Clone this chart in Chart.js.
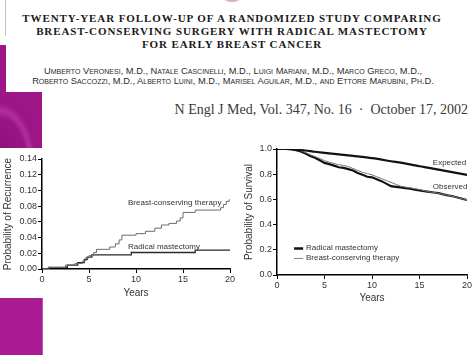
<!DOCTYPE html>
<html>
<head>
<meta charset="utf-8">
<script src="https://cdn.jsdelivr.net/npm/chart.js@4"></script>
<style>
  html, body { margin:0; padding:0; background:#fff; }
  body { width:474px; height:355px; position:relative; overflow:hidden; }
  .abs { position:absolute; }
  .title { left:0; width:464px; text-align:center; font-family:"Liberation Serif","DejaVu Serif",serif; font-weight:bold; font-size:11px; letter-spacing:0.9px; color:#1a1a1a; white-space:nowrap; line-height:13px; }
  .auth { left:0; width:466px; text-align:center; font-family:"Liberation Sans",Arial,sans-serif; font-variant:small-caps; font-size:9.3px; color:#2a2a2a; white-space:nowrap; line-height:10px; }
  .jour { right:6px; font-family:"Liberation Serif","DejaVu Serif",serif; font-size:14px; color:#3a3a3a; white-space:nowrap; line-height:16px; }
</style>
</head>
<body>
<!-- decorative side strips -->
<div class="abs" style="left:5px;top:0;width:1px;height:36px;background:#b9c5cf;"></div>
<div class="abs" style="left:0;top:45px;width:6px;height:48px;background:#9e1588;"></div>
<div class="abs" style="left:0;top:92px;width:42px;height:56px;background:radial-gradient(ellipse at 0% 130%, #8a0f78 0%, #9a1486 45%, #b0309a 52%, #9c1587 60%, #a0168a 100%);"></div>
<div class="abs" style="left:0;top:298px;width:42px;height:57px;background:#a91b90;border-right:1px solid #c455ad;"></div>
<div class="abs" style="left:224px;top:-5px;width:16px;height:7px;border-radius:50%;background:#ddb0c0;"></div>

<div class="abs title" style="top:12px;">TWENTY-YEAR FOLLOW-UP OF A RANDOMIZED STUDY COMPARING</div>
<div class="abs title" style="top:25px;">BREAST-CONSERVING SURGERY WITH RADICAL MASTECTOMY</div>
<div class="abs title" style="top:38px;">FOR EARLY BREAST CANCER</div>
<div class="abs auth" style="top:66px;">Umberto Veronesi, M.D., Natale Cascinelli, M.D., Luigi Mariani, M.D., Marco Greco, M.D.,</div>
<div class="abs auth" style="top:76px;">Roberto Saccozzi, M.D., Alberto Luini, M.D., Marisel Aguilar, M.D., and Ettore Marubini, Ph.D.</div>
<div class="abs jour" style="top:102px;">N Engl J Med, Vol. 347, No. 16 &nbsp;·&nbsp; October 17, 2002</div>

<div class="abs" style="left:0;top:140px;width:240px;height:160px;"><canvas id="c1" width="240" height="160"></canvas></div>
<div class="abs" style="left:235px;top:135px;width:239px;height:175px;"><canvas id="c2" width="239" height="175"></canvas></div>

<script>
// ---------- DATA ----------
// Left panel: cumulative probability of recurrence (step curves)
const recurBctYears  = [0, 0.7, 2.5, 3.5, 4.3, 4.6, 5.0, 5.5, 5.8, 7.2, 7.8, 8.2, 8.5, 10.0, 11.0, 12.0, 12.7, 13.5, 14.3, 14.7, 15.0, 16.3, 19.0, 19.3, 19.6, 19.9, 20];
const recurBctValues = [0, 0.002, 0.005, 0.007, 0.010, 0.014, 0.017, 0.021, 0.025, 0.028, 0.032, 0.037, 0.043, 0.045, 0.048, 0.052, 0.056, 0.058, 0.061, 0.065, 0.072, 0.075, 0.078, 0.082, 0.086, 0.088, 0.088];
const recurRmYears   = [0, 0.7, 2.7, 3.8, 4.5, 4.8, 5.3, 9.5, 16.3, 20];
const recurRmValues  = [0, 0.002, 0.005, 0.008, 0.012, 0.015, 0.018, 0.021, 0.024, 0.024];

// Right panel: probability of survival
const survYears      = [0, 1, 1.5, 2, 2.5, 3, 3.5, 4, 4.5, 5, 5.5, 6, 6.5, 7, 7.5, 8, 8.5, 9, 9.5, 10, 10.5, 11, 11.5, 12, 12.5, 13, 13.5, 14, 14.5, 15, 15.5, 16, 16.5, 17, 17.5, 18, 18.5, 19, 19.5, 20];
const survRmValues   = [1.0, 1.0, 0.998, 0.99, 0.98, 0.965, 0.945, 0.93, 0.91, 0.89, 0.88, 0.868, 0.855, 0.85, 0.84, 0.83, 0.81, 0.795, 0.78, 0.775, 0.76, 0.745, 0.725, 0.705, 0.70, 0.695, 0.69, 0.685, 0.678, 0.672, 0.665, 0.66, 0.655, 0.65, 0.64, 0.632, 0.625, 0.615, 0.605, 0.595];
const survBctValues  = [1.0, 1.0, 0.998, 0.992, 0.985, 0.972, 0.955, 0.94, 0.925, 0.908, 0.895, 0.885, 0.875, 0.87, 0.86, 0.845, 0.83, 0.815, 0.805, 0.795, 0.78, 0.765, 0.75, 0.735, 0.72, 0.705, 0.698, 0.692, 0.685, 0.678, 0.67, 0.66, 0.655, 0.648, 0.64, 0.633, 0.625, 0.615, 0.605, 0.597];
const expectedYears  = [0, 1, 2, 3, 4, 6, 8, 10, 12, 14, 15, 16, 18, 20];
const expectedValues = [1.0, 1.0, 0.995, 0.988, 0.978, 0.962, 0.945, 0.927, 0.903, 0.878, 0.863, 0.85, 0.822, 0.794];

const xTicks = [0, 5, 10, 15, 20];
const recurTicks = [0, 0.02, 0.04, 0.06, 0.08, 0.10, 0.12, 0.14];
const survTicks = [0, 0.2, 0.4, 0.6, 0.8, 1.0];

// ---------- helpers ----------
const pts = (xs, ys) => xs.map((x, i) => ({x, y: ys[i]}));
const FONT = '"Liberation Sans", Arial, sans-serif';
const TXT = '#333';

const annotate = {
  id: 'annotate',
  afterDatasetsDraw(chart, args, opts) {
    const {ctx, scales: {x, y}} = chart;
    ctx.save();
    (opts.keys || []).forEach(k => {
      ctx.beginPath();
      ctx.strokeStyle = k.color; ctx.lineWidth = k.width;
      const py = Math.round(y.getPixelForValue(k.y)) + 0.5;
      ctx.moveTo(x.getPixelForValue(k.x0), py);
      ctx.lineTo(x.getPixelForValue(k.x1), py);
      ctx.stroke();
    });
    (opts.texts || []).forEach(t => {
      ctx.font = (t.size || 8) + 'px ' + FONT;
      ctx.fillStyle = TXT; ctx.textAlign = 'left'; ctx.textBaseline = 'middle';
      ctx.fillText(t.text, x.getPixelForValue(t.x), y.getPixelForValue(t.y));
    });
    ctx.restore();
  }
};

function axisCommon(extra) {
  return Object.assign({
    type: 'linear',
    grid: { drawOnChartArea: false, drawTicks: true, tickLength: 4, color: '#000', lineWidth: 1 },
    border: { display: true, color: '#000', width: 1.5 },
  }, extra);
}

function makeChart(id, cfg) {
  return new Chart(document.getElementById(id), {
    type: 'line',
    data: { datasets: cfg.datasets },
    options: {
      responsive: false, animation: false,
      layout: { padding: cfg.padding },
      elements: { point: { radius: 0 } },
      plugins: { legend: { display: false }, tooltip: { enabled: false }, annotate: cfg.annot },
      scales: {
        x: axisCommon({
          min: 0, max: 20,
          afterBuildTicks: s => { s.ticks = xTicks.map(v => ({value: v})); },
          afterFit: s => { s.height = cfg.xh; },
          ticks: { font: { family: FONT, size: 9 }, color: TXT, padding: 1, maxRotation: 0 },
          title: { display: true, text: 'Years', font: { family: FONT, size: 10 }, color: TXT, padding: { top: 0, bottom: cfg.xtp } }
        }),
        y: axisCommon({
          min: cfg.ymin, max: cfg.ymax,
          afterBuildTicks: s => { s.ticks = cfg.yticks.map(v => ({value: v})); },
          afterFit: s => { s.width = 42; },
          ticks: { font: { family: FONT, size: 9 }, color: TXT, padding: 1, callback: v => v.toFixed(cfg.dec) },
          title: { display: true, text: cfg.ytitle, font: { family: FONT, size: 10 }, color: TXT, padding: { top: cfg.ytp, bottom: 0 } }
        })
      }
    },
    plugins: [annotate]
  });
}

makeChart('c1', {
  padding: { top: 19, right: 10, left: 0, bottom: 0 },
  xh: 31, xtp: 1, ytp: 2, ymin: 0, ymax: 0.14, yticks: recurTicks, dec: 2,
  ytitle: 'Probability of Recurrence',
  datasets: [
    { label: 'Breast-conserving therapy', data: pts(recurBctYears, recurBctValues), stepped: true, borderColor: '#6c6c6c', borderWidth: 1 },
    { label: 'Radical mastectomy', data: pts(recurRmYears, recurRmValues), stepped: true, borderColor: '#2a2a2a', borderWidth: 1.3 }
  ],
  annot: { texts: [
    { text: 'Breast-conserving therapy', x: 9.15, y: 0.084 },
    { text: 'Radical mastectomy', x: 9.15, y: 0.028 }
  ] }
});

makeChart('c2', {
  padding: { top: 14, right: 7, left: 0, bottom: 0 },
  xh: 35, xtp: 6, ytp: 8, ymin: 0, ymax: 1.0, yticks: survTicks, dec: 1,
  ytitle: 'Probability of Survival',
  datasets: [
    { label: 'Expected', data: pts(expectedYears, expectedValues), borderColor: '#111', borderWidth: 2.2, tension: 0.3 },
    { label: 'Breast-conserving therapy', data: pts(survYears, survBctValues), borderColor: '#777', borderWidth: 1 },
    { label: 'Radical mastectomy', data: pts(survYears, survRmValues), borderColor: '#111', borderWidth: 2.2 }
  ],
  annot: {
    texts: [
      { text: 'Expected', x: 16.4, y: 0.889 },
      { text: 'Observed', x: 16.4, y: 0.698 },
      { text: 'Radical mastectomy', x: 3.05, y: 0.214 },
      { text: 'Breast-conserving therapy', x: 3.05, y: 0.135 }
    ],
    keys: [
      { x0: 1.8, x1: 2.75, y: 0.214, color: '#111', width: 2.5 },
      { x0: 1.8, x1: 2.75, y: 0.135, color: '#888', width: 1 }
    ]
  }
});
</script>
</body>
</html>
